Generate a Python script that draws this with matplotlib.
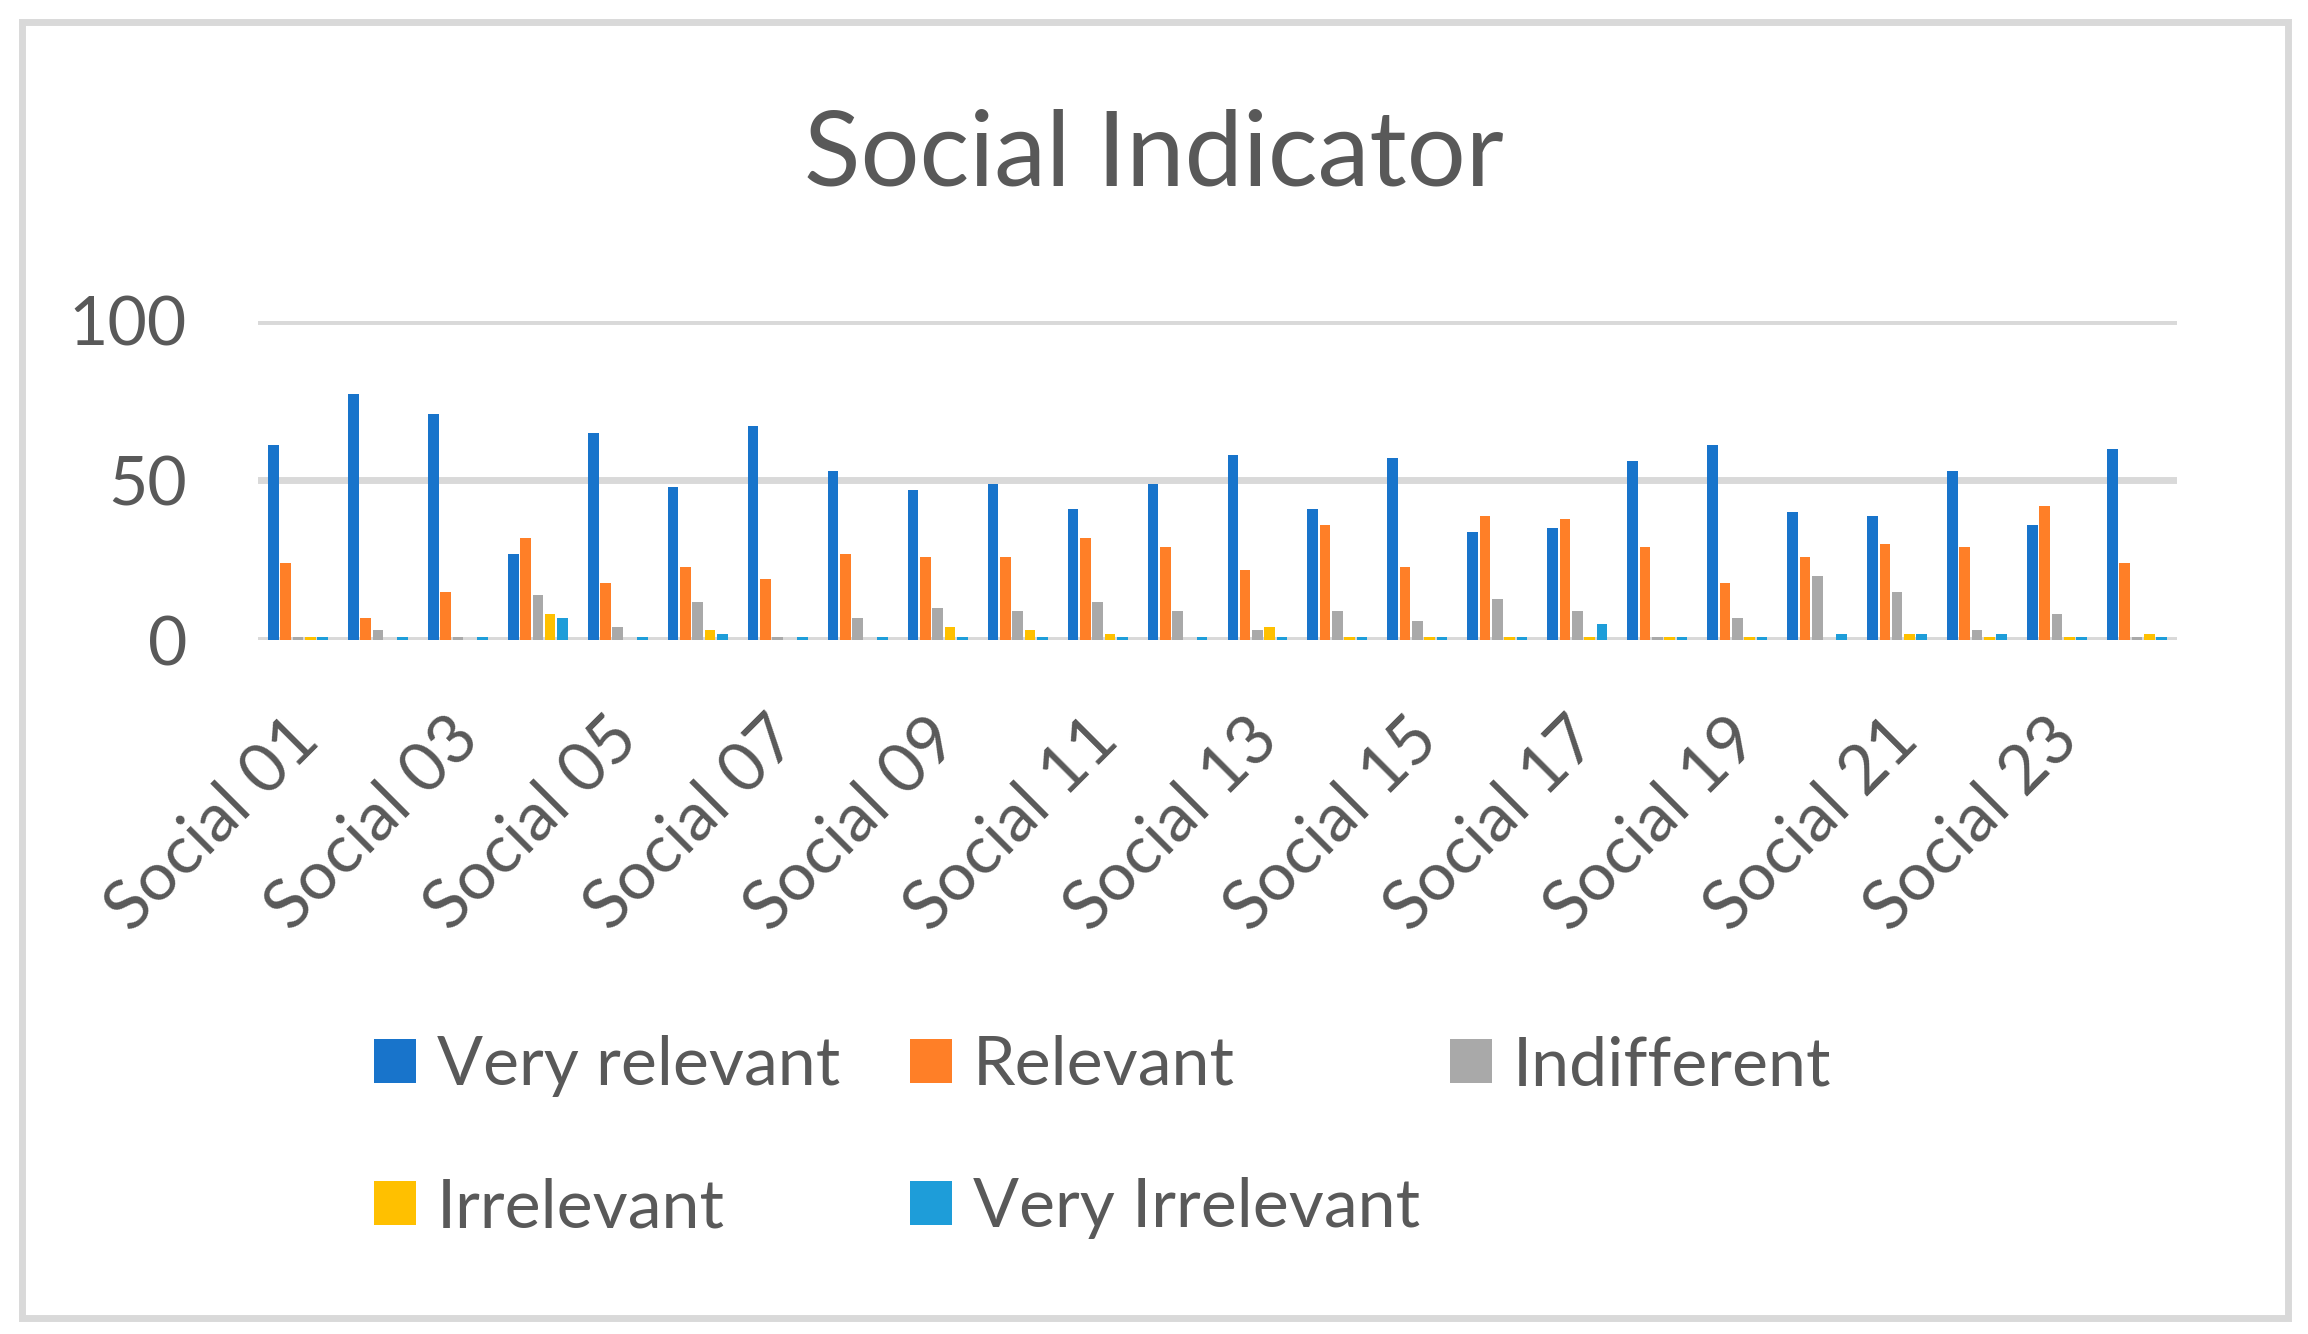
import numpy as np
import matplotlib
matplotlib.use("Agg")
import matplotlib.pyplot as plt
from matplotlib.patches import Rectangle
from matplotlib.transforms import ScaledTranslation

# Data (counts per indicator)
categories = ["Social 01", "Social 02", "Social 03", "Social 04", "Social 05", "Social 06",
              "Social 07", "Social 08", "Social 09", "Social 10", "Social 11", "Social 12",
              "Social 13", "Social 14", "Social 15", "Social 16", "Social 17", "Social 18",
              "Social 19", "Social 20", "Social 21", "Social 22", "Social 23", "Social 24"]
very_relevant = [61, 77, 71, 27, 65, 48, 67, 53, 47, 49, 41, 49, 58, 41, 57, 34, 35, 56, 61, 40, 39, 53, 36, 60]
relevant = [24, 7, 15, 32, 18, 23, 19, 27, 26, 26, 32, 29, 22, 36, 23, 39, 38, 29, 18, 26, 30, 29, 42, 24]
indifferent = [1, 3, 1, 14, 4, 12, 1, 7, 10, 9, 12, 9, 3, 9, 6, 13, 9, 1, 7, 20, 15, 3, 8, 1]
irrelevant = [1, 0, 0, 8, 0, 3, 0, 0, 4, 3, 2, 0, 4, 1, 1, 1, 1, 1, 1, 0, 2, 1, 1, 2]
very_irrelevant = [1, 1, 1, 7, 1, 2, 1, 1, 1, 1, 1, 1, 1, 1, 1, 1, 5, 1, 1, 2, 2, 2, 1, 1]

series_names = ["Very relevant", "Relevant", "Indifferent", "Irrelevant", "Very Irrelevant"]
series_colors = ["#1874CB", "#FF7F27", "#A9A9A9", "#FFC000", "#1E9DD9"]
yticks = [0, 50, 100]

TEXT = "#595959"
GRID = "#D9D9D9"
W, H = 2308, 1334

plt.rcParams["font.family"] = ["Lato", "DejaVu Sans"]

fig = plt.figure(figsize=(W / 100, H / 100), dpi=100)
fig.patch.set_facecolor("white")

# outer chart border
fig.patches.append(Rectangle((21.5 / W, 1 - 1317.5 / H), (2287.5 - 21.5) / W, (1317.5 - 21.5) / H,
                             transform=fig.transFigure, fill=False, edgecolor=GRID, linewidth=5.0))

ax = fig.add_axes([258 / W, 1 - 640 / H, (2177 - 258) / W, (640 - 321) / H])

x = np.arange(len(categories))
step = 0.154
width = 0.133
all_series = [very_relevant, relevant, indifferent, irrelevant, very_irrelevant]
handles = []
for i, (vals, name, col) in enumerate(zip(all_series, series_names, series_colors)):
    b = ax.bar(x + (i - 2) * step, vals, width=width, color=col, label=name, zorder=2)
    handles.append(b)

ax.set_xlim(-0.5, len(categories) - 0.5)
ax.set_ylim(0, 100)
ax.set_yticks(yticks)
ax.yaxis.grid(True, color=GRID, linewidth=5.0, zorder=0)
ax.set_axisbelow(True)
for s in ax.spines.values():
    s.set_visible(False)

ax.tick_params(axis="y", length=0, pad=51, labelsize=49, labelcolor=TEXT)
ax.tick_params(axis="x", length=0, pad=48, labelsize=49, labelcolor=TEXT)
ax.set_xticks(x[::2])
ax.set_xticklabels(categories[::2], rotation=45, ha="right", va="top", rotation_mode="anchor")
shift = ScaledTranslation(-12 / 100, 0, fig.dpi_scale_trans)
for lab in ax.get_xticklabels():
    lab.set_transform(lab.get_transform() + shift)

fig.text(0.5, 1 - 186 / H, "Social Indicator", ha="center", va="baseline",
         fontsize=75, color=TEXT)

# legend laid out row by row like the original: two columns + a third column
leg_kw = dict(frameon=False, fontsize=49, labelcolor=TEXT,
              handlelength=0.62, handleheight=0.62, handletextpad=0.3,
              borderpad=0, borderaxespad=0)
order = [0, 3, 1, 4]
leg1 = fig.legend([handles[k] for k in order], [series_names[k] for k in order],
                  ncol=2, loc="center left", bbox_to_anchor=(374 / W, 1 - 1137 / H),
                  columnspacing=1.03, labelspacing=1.18, **leg_kw)
leg2 = fig.legend([handles[2]], [series_names[2]],
                  ncol=1, loc="center left", bbox_to_anchor=(1450 / W, 1 - 1066 / H),
                  **leg_kw)

fig.savefig("out.png", dpi=100, facecolor="white")
